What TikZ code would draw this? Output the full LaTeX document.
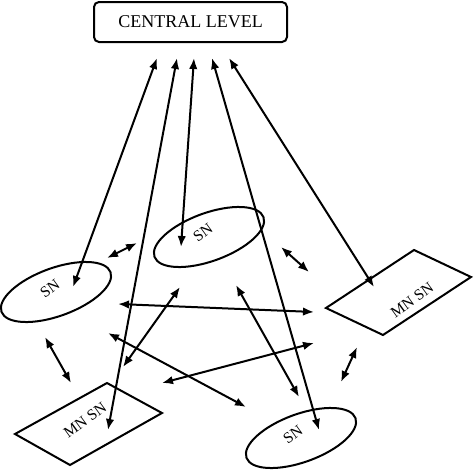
\documentclass[tikz,border=0pt]{standalone}
\usepackage{fontspec}
\setmainfont{Liberation Serif}
\usetikzlibrary{shapes}
\usetikzlibrary{arrows.meta}
\tikzset{
	level_box/.style = {
		rectangle,
		rounded corners=5pt,
		draw=black,
		line width=2pt,
		minimum width=193pt,
		minimum height=40pt,
		font=\fontsize{18}{20}\selectfont
	},
	node_sn/.style = {
		ellipse,
		draw=black,
		line width=2pt,
		inner sep=0pt,
		minimum width=116pt,
		minimum height=48pt,
		rotate=20
	},
	node_lbl/.style = {
		inner sep=0pt,
		rotate=36,
		font=\fontsize{15.5}{16}\selectfont
	},
	node_mn/.style = {
		draw=black,
		line width=2pt,
		line join=miter
	},
	link/.style = {
		<->,
		line width=2pt
	},
}
\begin{document}
\begin{tikzpicture}[x=1pt,y=-1pt,>={Latex[length=11pt,width=8.5pt]}]
\useasboundingbox (0,0) rectangle (474,471);
\node [level_box] (central) at (190.5,22) {CENTRAL LEVEL};
% the three SN
\node [node_sn] (sn_left) at (56,292) {};
\node [node_sn] (sn_top) at (209,237) {};
\node [node_sn] (sn_bottom) at (301,438) {};
\node [node_lbl] (sn_left_lbl) at (50,289) {SN};
\node [node_lbl] (sn_top_lbl) at (203,233) {SN};
\node [node_lbl] (sn_bottom_lbl) at (293,435) {SN};
% the two MN SN
\coordinate (mn_right_a) at (326,308);
\coordinate (mn_right_b) at (414,250);
\coordinate (mn_right_c) at (471,277);
\coordinate (mn_right_d) at (383,335);
\draw [node_mn] (mn_right_a) -- (mn_right_b) -- (mn_right_c) -- (mn_right_d) -- cycle;
\coordinate (mn_left_a) at (15,434);
\coordinate (mn_left_b) at (107,383);
\coordinate (mn_left_c) at (162,413);
\coordinate (mn_left_d) at (70,465);
\draw [node_mn] (mn_left_a) -- (mn_left_b) -- (mn_left_c) -- (mn_left_d) -- cycle;
\node [node_lbl] (mn_right_lbl) at (412,300) {MN SN};
\node [node_lbl] (mn_left_lbl) at (85,420) {MN SN};
% links
\foreach \n/\xa/\ya/\xb/\yb in {
	l1/157/58/73/287, l2/177/58/108/430, l3/194/58/181/247,
	l4/212/58/319/430, l5/229/58/374/287, l6/107/258/137/243,
	l7/281/247/309/272, l8/45/337/71/383, l9/357/347/341/382,
	l10/118/304/314/312, l11/108/333/246/407, l12/180/287/123/367,
	l13/162/383/314/343, l14/236/285/299/397}
{
	\coordinate (\n a) at (\xa,\ya);
	\coordinate (\n b) at (\xb,\yb);
	\draw [link] (\n a) -- (\n b);
}
\end{tikzpicture}
\end{document}
